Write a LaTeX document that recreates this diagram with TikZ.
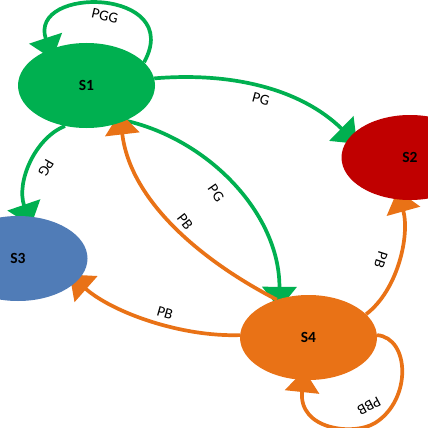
\documentclass[tikz,border=0pt]{standalone}
\usepackage{fontspec}
\setmainfont{Carlito}
\usetikzlibrary{arrows.meta,shapes.geometric,backgrounds}
\definecolor{cgreen}{RGB}{0,176,80}
\definecolor{cred}{RGB}{192,0,0}
\definecolor{cblue}{RGB}{80,124,183}
\definecolor{corange}{RGB}{233,114,22}
\begin{document}
\begin{tikzpicture}[x=1pt,y=-1pt,
  state/.style={ellipse, minimum width=137pt, minimum height=85pt, inner sep=0pt,
    font=\fontsize{15.5}{17}\selectfont\bfseries, text=black},
  edge/.style={line width=3.7pt, -{Triangle[width=34pt,length=22pt]}, shorten >=-10pt},
  gedge/.style={edge, draw=cgreen},
  oedge/.style={edge, draw=corange},
  lbl/.style={font=\fontsize{15}{17}\selectfont, inner sep=0pt, text=black}]
\useasboundingbox (0,0) rectangle (428,428);

\node[state, fill=cgreen] (s1) at (86.5,85.5) {S1};
\node[state, fill=cred] (s2) at (410,157.5) {S2};
\node[state, fill=cblue, minimum width=139pt] (s3) at (18,258.5) {S3};
\node[state, fill=corange] (s4) at (308.5,337.5) {S4};
\coordinate (lp) at (375,423);

\begin{scope}[on background layer]
\fill[white] (0,0) rectangle (428,428);
\draw[gedge] (s1.22) .. controls (185,-12) and (28,-15) .. (s1.136);
\draw[gedge] (s1.6) .. controls (230,72) and (300,88) .. (s2.161);
\draw[gedge] (s1.242) .. controls (35,138) and (16,182) .. (s3.77);
\draw[gedge] (s1.318) .. controls (210,140) and (280,215) .. (s4.127);
\draw[oedge] (s4.130) .. controls (200,260) and (130,200) .. (s1.-47);
\draw[oedge] (s4.178) .. controls (180,337) and (112,312) .. (s3.-21);
\draw[oedge] (s4.22) .. controls (398,290) and (410,235) .. (s2.-103);
\draw[oedge] (s4.2) .. controls (410,338) and (412,400) .. (lp)
   .. controls (354,436) and (298,430) .. (s4.-97);
\end{scope}

\node[lbl, rotate=-13] (l1) at (105,16) {PGG};
\node[lbl, rotate=-15] (l2) at (261,99) {PG};
\node[lbl, rotate=-120] (l3) at (46,168) {PG};
\node[lbl, rotate=-55] (l4) at (216,193) {PG};
\node[lbl, rotate=-52] (l5) at (185,222) {PB};
\node[lbl, rotate=-16] (l6) at (165,313) {PB};
\node[lbl, rotate=-108] (l7) at (381,260) {PB};
\node[lbl, rotate=-152] (l8) at (369,406) {PBB};
\end{tikzpicture}
\end{document}
